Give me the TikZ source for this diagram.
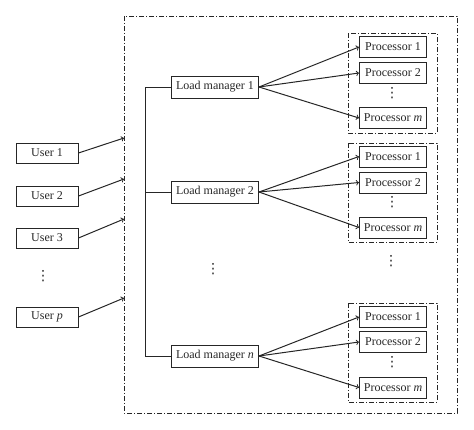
\documentclass[tikz,border=0pt]{standalone}
\usepackage{fontspec}
\setmainfont{Liberation Serif}
\newfontfamily\dotsfont{DejaVu Sans}
\usepackage{tikz}

\tikzset{
  userbox/.style={draw, minimum width=62pt, minimum height=20pt, inner sep=0pt, font=\fontsize{12}{14}\selectfont},
  lmbox/.style={draw, minimum width=87pt, minimum height=22pt, inner sep=0pt, font=\fontsize{12}{14}\selectfont},
  procbox/.style={draw, minimum width=67pt, minimum height=21pt, inner sep=0pt, font=\fontsize{12}{14}\selectfont},
  dashdot/.style={draw, dash pattern=on 5pt off 2pt on 1pt off 2pt},
  vdot/.style={inner sep=0pt, font=\dotsfont\fontsize{14}{14}\selectfont}
}

\begin{document}
\begin{tikzpicture}[x=1pt, y=-1pt, color=black!85, line width=1pt, >=to]
\useasboundingbox (0,0) rectangle (474,429);
% outer frame
\draw[dashdot] (124,16) rectangle (457,413);
% users
\node (u1) at (47,153) [userbox] {User 1};
\node (u2) at (47,196) [userbox] {User 2};
\node (u3) at (47,238) [userbox] {User 3};
\node (ud) at (43,276) [vdot] {⋮};
\node (up) at (47,317) [userbox] {User \textit{p}};
\coordinate (in1) at (124,138);
\coordinate (in2) at (124,179);
\coordinate (in3) at (124,219);
\coordinate (inp) at (124,298);
\draw[->] (u1.east) -- (in1);
\draw[->] (u2.east) -- (in2);
\draw[->] (u3.east) -- (in3);
\draw[->] (up.east) -- (inp);
% load managers
\node (lm1) at (215,87) [lmbox] {Load manager 1};
\node (lm2) at (215,192) [lmbox] {Load manager 2};
\node (lmd) at (213,269) [vdot] {⋮};
\node (lmn) at (215,356) [lmbox] {Load manager \textit{n}};
\draw (lm1.west) -- ++(-26,0) |- (lmn.west);
\draw (lm2.west) -- ++(-26,0);
% processors of manager 1
\draw[dashdot] (348,33) rectangle (437,133);
\node (p11) at (393,47) [procbox] {Processor 1};
\node (p12) at (393,73) [procbox] {Processor 2};
\node (p1d) at (392,93) [vdot] {⋮};
\node (p1m) at (393,118) [procbox] {Processor \textit{m}};
\draw[->] (lm1.east) -- (p11.west);
\draw[->] (lm1.east) -- (p12.west);
\draw[->] (lm1.east) -- (p1m.west);
% processors of manager 2
\draw[dashdot] (348,143) rectangle (437,242);
\node (p21) at (393,156.5) [procbox] {Processor 1};
\node (p22) at (393,182.5) [procbox] {Processor 2};
\node (p2d) at (392,202) [vdot] {⋮};
\node (p2m) at (393,227.5) [procbox] {Processor \textit{m}};
\draw[->] (lm2.east) -- (p21.west);
\draw[->] (lm2.east) -- (p22.west);
\draw[->] (lm2.east) -- (p2m.west);
\node (pd) at (391,261) [vdot] {⋮};
% processors of manager n
\draw[dashdot] (348,303) rectangle (437,402);
\node (pn1) at (393,317) [procbox] {Processor 1};
\node (pn2) at (393,342) [procbox] {Processor 2};
\node (pnd) at (392,362) [vdot] {⋮};
\node (pnm) at (393,387.5) [procbox] {Processor \textit{m}};
\draw[->] (lmn.east) -- (pn1.west);
\draw[->] (lmn.east) -- (pn2.west);
\draw[->] (lmn.east) -- (pnm.west);
\end{tikzpicture}
\end{document}
